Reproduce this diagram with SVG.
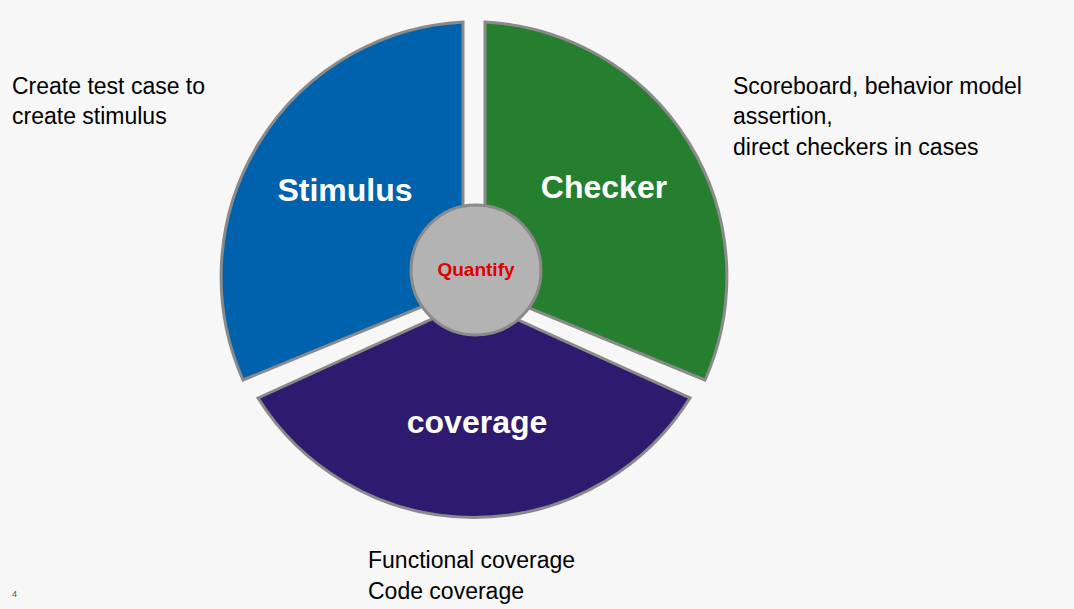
<svg xmlns="http://www.w3.org/2000/svg" width="1074" height="609" viewBox="0 0 1074 609">
<style>
.seg{stroke:#8a8a8a;stroke-width:3}
.big{font-family:"Liberation Sans",Arial,sans-serif;font-weight:bold;font-size:32px;fill:#fff;text-anchor:middle}
.note{font-family:"Liberation Sans",Arial,sans-serif;font-size:23px;fill:#000}
</style>
<rect width="1074" height="609" fill="#f7f7f7"/>
<g id="stimulus"><path class="seg" fill="#0062ad" d="M463,22 L463,290 L243,380 A255 255 0 0 1 463,22 Z"/><text class="big" x="345" y="201">Stimulus</text></g>
<g id="checker"><path class="seg" fill="#267f2e" d="M485,22 L485,290 L705,380 A255 255 0 0 0 485,22 Z"/><text class="big" x="604" y="198">Checker</text></g>
<g id="coverage"><path class="seg" fill="#2e1a6e" d="M258,398 L474,300 L690,398 A255 255 0 0 1 258,398 Z"/><text class="big" x="477" y="433">coverage</text></g>
<g id="quantify"><circle cx="476" cy="270" r="65" fill="#b3b3b3" stroke="#8a8a8a" stroke-width="3"/><text x="476" y="276" font-family="Liberation Sans,Arial,sans-serif" font-weight="bold" font-size="19" fill="#e00000" text-anchor="middle">Quantify</text></g>
<g id="connectors"/>
<text class="note" x="12" y="94">Create test case to</text>
<text class="note" x="12" y="124">create stimulus</text>
<text class="note" x="733" y="94">Scoreboard, behavior model</text>
<text class="note" x="733" y="124">assertion,</text>
<text class="note" x="733" y="155">direct checkers in cases</text>
<text class="note" x="368" y="568">Functional coverage</text>
<text class="note" x="368" y="599">Code coverage</text>
<text x="12" y="597" font-family="Liberation Sans,Arial,sans-serif" font-size="9" fill="#555">4</text>
</svg>
